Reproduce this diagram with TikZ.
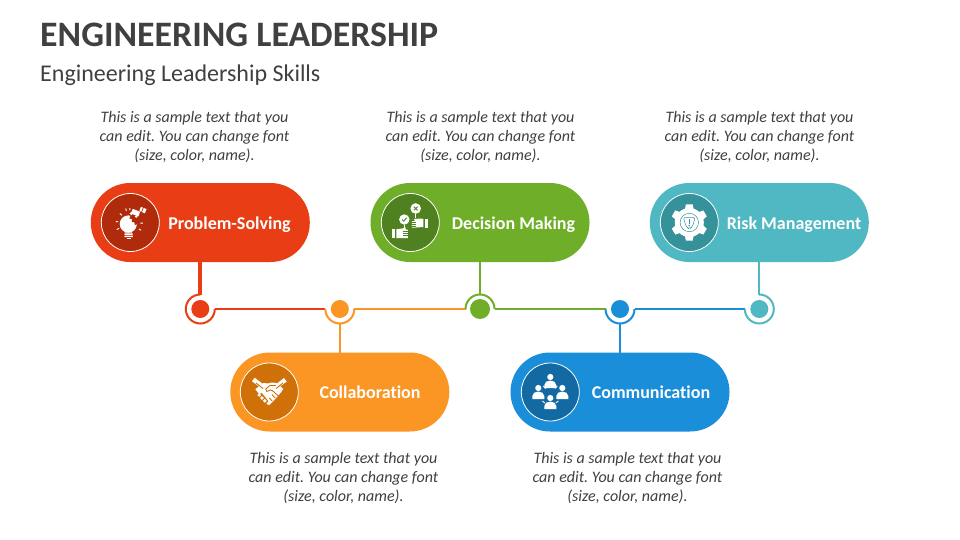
\documentclass[tikz,border=0pt]{standalone}
\usepackage{fontspec}
\setmainfont[Ligatures=NoCommon]{Carlito}
\definecolor{cRed}{HTML}{E93E15}\definecolor{dRed}{HTML}{B02B0C}
\definecolor{cOra}{HTML}{FB9624}\definecolor{dOra}{HTML}{CF7008}
\definecolor{cGrn}{HTML}{6EAE28}\definecolor{dGrn}{HTML}{4F8120}
\definecolor{cTea}{HTML}{4FB8C2}\definecolor{dTea}{HTML}{35919A}
\definecolor{cBlu}{HTML}{1A8ED8}\definecolor{dBlu}{HTML}{136AA3}
\definecolor{ink}{HTML}{404040}
\tikzset{
  pill/.style={fill=#1,draw=none,rounded corners=39.4pt,minimum width=219pt,minimum height=79pt,inner sep=0pt,outer sep=0pt},
  badge/.style={circle,fill=#1,draw=white,line width=0.8pt,minimum size=58pt,inner sep=0pt},
  pilltext/.style={anchor=base,text=white,font=\fontsize{18}{20}\selectfont\bfseries,inner sep=0pt},
  ringnode/.style={circle,minimum size=29pt,inner sep=0pt,outer sep=0pt},
  dotnode/.style={circle,fill=#1,minimum size=18pt,inner sep=0pt,outer sep=0pt},
  note/.style={text=ink,align=center,inner sep=0pt,font=\fontsize{16}{19}\selectfont\itshape\frenchspacing},
  wire/.style={draw=#1,line width=2pt},
}
% one person of the communication icon, at its head position
\newcommand{\personicon}[2]{%
  \fill[white] (#1,#2) circle[radius=3.1];
  \fill[white] (#1-6,#2+11) -- (#1-6,#2+8) .. controls (#1-6,#2+5) and (#1-3,#2+3.6) .. (#1,#2+3.6)
     .. controls (#1+3,#2+3.6) and (#1+6,#2+5) .. (#1+6,#2+8) -- (#1+6,#2+11) -- cycle;
}
\begin{document}
\begin{tikzpicture}[x=1pt,y=-1pt]
\useasboundingbox (0,0) rectangle (960,540);
\fill[white] (0,0) rectangle (960,540);

\node[anchor=base west,inner sep=0pt,text=ink,font=\fontsize{35.8}{40}\selectfont\bfseries] (title) at (40,46.5) {ENGINEERING LEADERSHIP};
\node[anchor=base west,inner sep=0pt,text=ink,font=\fontsize{24}{28}\selectfont] (subtitle) at (40,81.5) {Engineering Leadership Skills};

\node[note] (noteA) at (194.5,137) {This is a sample text that you\\can edit. You can change font\\(size, color, name).};
\node[note] (noteC) at (480.5,137) {This is a sample text that you\\can edit. You can change font\\(size, color, name).};
\node[note] (noteE) at (759.5,137) {This is a sample text that you\\can edit. You can change font\\(size, color, name).};
\node[note] (noteB) at (343.5,478) {This is a sample text that you\\can edit. You can change font\\(size, color, name).};
\node[note] (noteD) at (627.5,478) {This is a sample text that you\\can edit. You can change font\\(size, color, name).};

% timeline anchors
\node[ringnode] (ringA) at (200.3,309) {};
\node[ringnode] (ringB) at (339.8,309) {};
\node[ringnode] (ringC) at (480,309) {};
\node[ringnode] (ringD) at (620,309) {};
\node[ringnode] (ringE) at (759.3,309) {};

% pills
\node[pill=cRed] (pillA) at (200.3,222.5) {};
\node[pill=cOra] (pillB) at (339.8,392) {};
\node[pill=cGrn] (pillC) at (480,222.5) {};
\node[pill=cBlu] (pillD) at (620,392) {};
\node[pill=cTea] (pillE) at (759.3,222.5) {};

% stems
\draw[cRed,line width=4pt] (pillA.south) -- (ringA.north);
\draw[wire=cOra] (pillB.north) -- (ringB.south);
\draw[wire=cGrn] (pillC.south) -- (ringC.north);
\draw[wire=cBlu] (pillD.north) -- (ringD.south);
\draw[wire=cTea] (pillE.south) -- (ringE.north);

% horizontal links
\draw[wire=cRed] (ringA.east) -- (ringB.west);
\draw[wire=cOra] (ringB.east) -- (ringC.west);
\draw[wire=cGrn] (ringC.east) -- (ringD.west);
\draw[wire=cBlu] (ringD.east) -- (ringE.west);

% ring arcs
\draw[wire=cRed] (ringA.north) arc[start angle=-90,end angle=-360,radius=14.5];
\draw[wire=cOra] (ringB.west) arc[start angle=180,end angle=0,radius=14.5];
\draw[wire=cGrn] (ringC.west) arc[start angle=180,end angle=360,radius=14.5];
\draw[wire=cBlu] (ringD.west) arc[start angle=180,end angle=0,radius=14.5];
\draw[wire=cTea] (ringE.north) arc[start angle=270,end angle=540,radius=14.5];

% dots
\node[dotnode=cRed] (dotA) at (ringA) {};
\node[dotnode=cOra] (dotB) at (ringB) {};
\node[dotnode=cGrn,minimum size=20pt] (dotC) at (ringC) {};
\node[dotnode=cBlu] (dotD) at (ringD) {};
\node[dotnode=cTea] (dotE) at (ringE) {};

% badges
\node[badge=dRed] (badgeA) at (130.3,222.5) {};
\node[badge=dOra] (badgeB) at (269.3,392) {};
\node[badge=dGrn] (badgeC) at (410.3,222.5) {};
\node[badge=dBlu] (badgeD) at (550.3,392) {};
\node[badge=dTea] (badgeE) at (689.3,222.5) {};

% labels
\node[pilltext] (labA) at (229.5,229) {Problem-Solving};
\node[pilltext] (labB) at (370,398) {Collaboration};
\node[pilltext] (labC) at (513.5,229) {Decision Making};
\node[pilltext] (labD) at (651,398) {Communication};
\node[pilltext] (labE) at (794,229) {Risk Management};

% --- icon: bulb and puzzle hand
\begin{scope}[shift={(badgeA.center)}]
  \fill[white] (-2,1.5) circle[radius=8.6];
  \fill[white] (-6.5,7) -- (2.5,7) -- (1.5,10) -- (-5.5,10) -- cycle;
  \foreach \yy in {10.8,13.2}{\fill[white,rounded corners=0.6] (-6,\yy) rectangle (2.6,\yy+1.5);}
  \fill[white] (-3.8,15.4) rectangle (0.6,16.8);
  % notch in the bulb
  \fill[dRed] (0.5,-7.5) -- (8.5,-4) -- (8,1.5) -- (4.5,2.5) -- (4,-0.5) -- (1.5,-0.5) -- (1.5,-3.5) -- (-1,-4) -- cycle;
  % puzzle piece and hand
  \fill[white,rotate around={-22:(6,-9)}] (1,-12) rectangle (9,-7);
  \fill[white] (1,-9) circle[radius=1.7];
  \fill[white] (6,-6) circle[radius=1.4];
  \fill[white,rotate around={-22:(13,-12)}] (9.5,-14.5) rectangle (15.5,-10);
  \fill[dRed,rotate around={-22:(13,-12)}] (11.6,-15) rectangle (12.3,-9.5);
  % rays
  \draw[white,line width=0.9pt] (-10.5,-9) -- (-8.5,-7.2) (-4.5,-14) -- (-4,-11.5) (-14.5,-1) -- (-12,-0.7)
     (-13.5,7) -- (-11.2,5.8) (-0.5,-14.5) -- (-0.5,-12.3) (8.6,6.5) -- (10.8,7.8) (10,0.6) -- (12.6,0.6);
\end{scope}

% --- icon: handshake
\begin{scope}[shift={(badgeB.center)}]
  \fill[white] (-14,-2.8) -- (-6,-9) -- (-1,-8.5) -- (2,-9.5) -- (7,-9) -- (14,-3) -- (12,0) -- (5,8) -- (0,13)
     -- (-6,8) -- (-11,1) -- cycle;
  \fill[white,rotate around={-38:(-12,-9.5)}] (-17,-11.7) rectangle (-7.5,-7.3);
  \fill[white,rotate around={38:(12.5,-9.5)}] (8,-11.7) rectangle (17,-7.3);
  \fill[dOra,rotate around={-38:(-10,-6)}] (-14.5,-6.8) rectangle (-5.5,-5.9);
  \fill[dOra,rotate around={38:(10.5,-6)}] (6,-6.8) rectangle (15,-5.9);
  \draw[dOra,line width=0.9pt,line join=round] (6.5,-6.5) -- (0.5,-6.5) -- (-3.5,-3) -- (-2.5,-0.5) -- (1,-2) -- (3,-1.5) -- (9,4);
  \draw[dOra,line width=0.8pt] (6,6) -- (2.5,2.5) (3,9) -- (0,6) (-0.5,11.5) -- (-3,9);
  \fill[dOra] (-11,2.8) -- (-7.5,1) -- (-1,9) -- (-3,14.5) -- cycle;
  \fill[white] (-10,3) circle[radius=1.9] (-7.3,6) circle[radius=1.9] (-4.5,8.8) circle[radius=1.9] (-1.2,11.4) circle[radius=1.7];
\end{scope}

% --- icon: decision hands
\begin{scope}[shift={(badgeC.center)}]
  \fill[white] (5.4,-14) circle[radius=5.3];
  \draw[dGrn,line width=0.9pt] (3.6,-15.8) -- (7.2,-12.2) (7.2,-15.8) -- (3.6,-12.2);
  \fill[white] (-6,-3) circle[radius=5.2];
  \draw[dGrn,line width=0.9pt,line join=round] (-8.3,-3) -- (-6.6,-1.3) -- (-3.6,-4.7);
  \draw[white,line width=1pt] (5.4,-8.5) -- (5.4,-5) (-6,2.3) -- (-6,5);
  % right hand
  \fill[white] (1.5,-1.5) rectangle (6,3.2);
  \fill[white] (3.5,-3.5) -- (11,-4) -- (13,-3.5) -- (13,4.5) -- (6,5) -- (1.5,5) -- (1.5,-1) -- (5,-1) -- cycle;
  \fill[white] (15,-4) rectangle (18,5.2);
  \draw[dGrn,line width=0.6pt] (1.5,-0.5) -- (6,-0.5) (1.5,1.5) -- (6,1.5) (1.5,3.4) -- (6,3.4);
  % left hand
  \fill[white] (-18.5,6) rectangle (-15.5,15.5);
  \fill[white] (-14,6.8) -- (-8,6) -- (-5,4.5) -- (-4.5,7) -- (-2.5,7) -- (-2.5,15.5) -- (-14,15.5) -- cycle;
  \draw[dGrn,line width=0.6pt] (-7,8.6) -- (-2.5,8.6) (-7,10.8) -- (-2.5,10.8) (-7,13) -- (-2.5,13);
\end{scope}

% --- icon: communication
\begin{scope}[shift={(badgeD.center)}]
  \personicon{0}{-15}
  \personicon{-12}{-4}
  \personicon{12}{-4}
  \personicon{0}{6}
  \draw[white,line width=0.8pt] (-7,-6) -- (-4.5,-3.5) (7,-6) -- (4.5,-3.5) (-8,9) -- (-5.5,11) (8,9) -- (5.5,11);
\end{scope}

% --- icon: gear
\begin{scope}[shift={(badgeE.center)}]
  \fill[white] (0,0) circle[radius=14.5];
  \foreach \ang in {30,90,150,210,270,330}{
    \fill[white,rotate=\ang] (12,-4.6) -- (18.2,-3.4) -- (18.2,3.4) -- (12,4.6) -- cycle;
  }
  \draw[dTea,line width=0.5pt] (0,0) circle[radius=9.2];
  \draw[dTea,line width=0.5pt,rounded corners=2] (-6,-5) -- (6,-5) -- (3,4.5) -- (0,6.5) -- (-3,4.5) -- cycle;
  \fill[dTea] (-0.7,-3.6) rectangle (0.7,1.2);
  \fill[dTea] (0,3) circle[radius=0.9];
\end{scope}
\end{tikzpicture}
\end{document}
